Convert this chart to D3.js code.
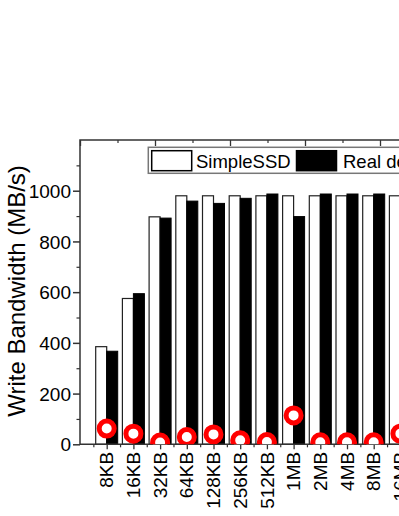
<!DOCTYPE html>
<html><head><meta charset="utf-8">
<script src="https://cdn.jsdelivr.net/npm/d3@7"></script>
<style>body{margin:0;background:#fff;overflow:hidden}svg{display:block;font-family:"Liberation Sans",Arial,sans-serif}</style>
</head><body>
<svg id="c" width="399" height="516"></svg>
<script>
const categories = ["8KB","16KB","32KB","64KB","128KB","256KB","512KB","1MB","2MB","4MB","8MB","16MB"];
const simpleSSD  = [385,575,897,980,980,980,980,980,980,980,980,980];
const realDevice = [367,594,892,959,950,970,987,898,987,987,987,987];
const errorPct   = [31,21,3.5,14.5,19.5,8,4.5,57,4,4,4,21];
const yTicks = [0,200,400,600,800,1000];
const seriesNames = ["SimpleSSD","Real device"];

const svg = d3.select("#c");
const L = 80, T = 140, B = 444.3, step = 26.7;
const R = L + step*(categories.length+1);
const x = d3.scaleLinear().domain([-1, categories.length]).range([L, R]);
const y = d3.scaleLinear().domain([0,1200]).range([B, T]);
const y2 = d3.scaleLinear().domain([0,600]).range([B, T]);
const bw = 11;
const axisColor = "#333";

svg.append("defs").append("clipPath").attr("id","pc")
  .append("rect").attr("x",L).attr("y",T).attr("width",R-L).attr("height",B-T);

// bars
const g = svg.append("g");
categories.forEach((c,i)=>{
  g.append("rect").attr("x",x(i)-bw).attr("y",y(simpleSSD[i])).attr("width",bw).attr("height",B-y(simpleSSD[i]))
    .attr("fill","#fff").attr("stroke","#222").attr("stroke-width",1.2);
  g.append("rect").attr("x",x(i)).attr("y",y(realDevice[i])).attr("width",bw).attr("height",B-y(realDevice[i]))
    .attr("fill","#000").attr("stroke","#000").attr("stroke-width",1);
});

// left axis
const yAxis = d3.axisLeft(y).tickValues(yTicks).tickSize(7).tickPadding(2).tickFormat(d3.format("d"));
const ga = svg.append("g").attr("transform",`translate(${L},0)`).call(yAxis);
ga.select(".domain").remove();
ga.selectAll("line").attr("stroke",axisColor).attr("stroke-width",1.5);
ga.selectAll("text").attr("font-size",19).attr("fill","#000").attr("dy","0.35em");
const yMinor = d3.axisLeft(y).tickValues(d3.range(100,1200,200)).tickSize(3.5).tickFormat("");
const gm = svg.append("g").attr("transform",`translate(${L},0)`).call(yMinor);
gm.select(".domain").remove(); gm.selectAll("line").attr("stroke",axisColor).attr("stroke-width",1.2);

// bottom axis
const xb = d3.axisBottom(x).tickValues(d3.range(categories.length)).tickSize(5).tickFormat("");
const gb = svg.append("g").attr("transform",`translate(0,${B})`).call(xb);
gb.select(".domain").remove(); gb.selectAll("line").attr("stroke",axisColor).attr("stroke-width",1.3);
const xbm = d3.axisBottom(x).tickValues(d3.range(categories.length+1).map(i=>i-0.5)).tickSize(3).tickFormat("");
const gbm = svg.append("g").attr("transform",`translate(0,${B})`).call(xbm);
gbm.select(".domain").remove(); gbm.selectAll("line").attr("stroke",axisColor).attr("stroke-width",1.2);
categories.forEach((c,i)=>{
  svg.append("text").attr("transform",`translate(${x(i)},${B+7.5}) rotate(-90)`)
    .attr("text-anchor","end").attr("dy","0.35em").attr("font-size",19).text(c);
});

// top axis (secondary)
const xt = d3.scaleLinear().domain([0,1]).range([L, L+37.5]);
const gt = svg.append("g").attr("transform",`translate(0,${T})`)
  .call(d3.axisBottom(xt).tickValues(d3.range(0,10,2)).tickSize(6).tickFormat(""));
gt.select(".domain").remove(); gt.selectAll("line").attr("stroke",axisColor).attr("stroke-width",1.3);
const gtm = svg.append("g").attr("transform",`translate(0,${T})`)
  .call(d3.axisBottom(xt).tickValues(d3.range(1,10,2)).tickSize(3).tickFormat(""));
gtm.select(".domain").remove(); gtm.selectAll("line").attr("stroke",axisColor).attr("stroke-width",1.2);

// frame
svg.append("path").attr("d",`M${R},${T}H${L}V${B}H${R}`).attr("fill","none").attr("stroke",axisColor).attr("stroke-width",1.5);

// error circles
svg.append("g").attr("clip-path","url(#pc)").selectAll("circle").data(errorPct).join("circle")
  .attr("cx",(d,i)=>x(i)).attr("cy",d=>y2(d)).attr("r",7.5)
  .attr("fill","#fff").attr("stroke","#ff0000").attr("stroke-width",5);

// y title
svg.append("text").attr("transform",`translate(25,291) rotate(-90)`)
  .attr("text-anchor","middle").attr("font-size",24).text("Write Bandwidth (MB/s)");

// legend
const lg = svg.append("g");
lg.append("rect").attr("x",148.3).attr("y",147.3).attr("width",310).attr("height",26)
  .attr("fill","#fff").attr("stroke","#777").attr("stroke-width",1.5);
lg.append("rect").attr("x",151.7).attr("y",150.7).attr("width",40).attr("height",20)
  .attr("fill","#fff").attr("stroke","#000").attr("stroke-width",1.5);
lg.append("text").attr("x",196).attr("y",167.5).attr("font-size",18.5).text(seriesNames[0]);
lg.append("rect").attr("x",296.5).attr("y",150.7).attr("width",40).attr("height",20)
  .attr("fill","#000").attr("stroke","#000").attr("stroke-width",1.5);
lg.append("text").attr("x",343).attr("y",167.5).attr("font-size",18.5).text(seriesNames[1]);
</script>
</body></html>
